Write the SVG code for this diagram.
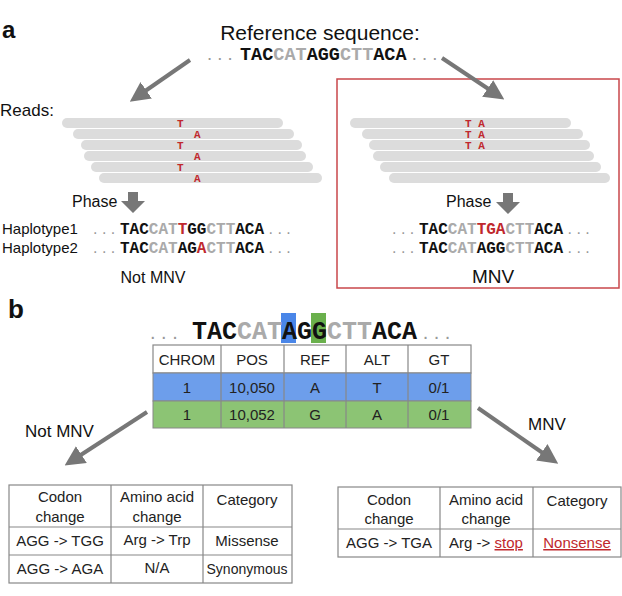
<svg xmlns="http://www.w3.org/2000/svg" width="622" height="596" viewBox="0 0 622 596">
<style>
.s{font-family:"Liberation Sans",Arial,sans-serif;fill:#111}
.m{font-family:"Liberation Mono","Courier New",monospace;font-weight:bold;fill:#111}
.g{fill:#aaa}
.r{fill:#c0282d}
.d{fill:#999;font-family:"Liberation Sans",sans-serif;font-weight:normal}
.bar{fill:#dcdcdc}
.ar{stroke:#777;stroke-width:4;fill:none}
.cell{fill:#fff;stroke:#888;stroke-width:1.2}
.t{font-family:"Liberation Sans",Arial,sans-serif;font-size:15px;fill:#222;text-anchor:middle}
</style>
<defs>
<marker id="ah" viewBox="0 0 10 10" refX="5" refY="5" markerWidth="5" markerHeight="5" orient="auto"><path d="M0,0L10,5L0,10z" fill="#777"/></marker>
</defs>
<text x="2" y="38" class="s" font-size="24" font-weight="bold">a</text>
<text x="320" y="40" class="s" font-size="21" text-anchor="middle">Reference sequence:</text>
<text x="207" y="60" class="m" font-size="18.5"><tspan class="d">. . .</tspan><tspan x="240">TAC</tspan><tspan class="g">CAT</tspan>AGG<tspan class="g">CTT</tspan>ACA<tspan class="d"> . . .</tspan></text>
<rect x="337" y="79" width="282" height="209" fill="none" stroke="#c9474b" stroke-width="1.5"/>
<g id="connectors">
<line x1="190" y1="60" x2="138" y2="96" class="ar" marker-end="url(#ah)"/>
<line x1="442" y1="58" x2="496" y2="94" class="ar" marker-end="url(#ah)"/>
<line x1="147" y1="412" x2="73" y2="460" class="ar" marker-end="url(#ah)"/>
<line x1="478" y1="408" x2="550" y2="458" class="ar" marker-end="url(#ah)"/>
<path d="M128,192h10v9h7l-12,12l-12,-12h7z" fill="#777"/>
<path d="M503,193h10v9h7l-12,12l-12,-12h7z" fill="#777"/>
</g>
<text x="0" y="116" class="s" font-size="17">Reads:</text>
<g id="readsL">
<rect x="62" y="118" width="221" height="10" rx="5" class="bar"/>
<rect x="73" y="129" width="221" height="10" rx="5" class="bar"/>
<rect x="81" y="140" width="221" height="10" rx="5" class="bar"/>
<rect x="84" y="151" width="222" height="10" rx="5" class="bar"/>
<rect x="91" y="162" width="222" height="10" rx="5" class="bar"/>
<rect x="99" y="173" width="223" height="10" rx="5" class="bar"/>
<g class="m" font-size="11"><text x="177" y="127" class="r">T</text><text x="194" y="138" class="r">A</text><text x="177" y="149" class="r">T</text><text x="194" y="160" class="r">A</text><text x="177" y="171" class="r">T</text><text x="194" y="182" class="r">A</text></g>
</g>
<g id="readsR">
<rect x="350" y="118" width="221" height="10" rx="5" class="bar"/>
<rect x="362" y="129" width="221" height="10" rx="5" class="bar"/>
<rect x="369" y="140" width="221" height="10" rx="5" class="bar"/>
<rect x="373" y="151" width="221" height="10" rx="5" class="bar"/>
<rect x="380" y="162" width="221" height="10" rx="5" class="bar"/>
<rect x="389" y="173" width="221" height="10" rx="5" class="bar"/>
<g class="m" font-size="11"><text x="465" y="127" class="r">T A</text><text x="465" y="138" class="r">T A</text><text x="465" y="149" class="r">T A</text></g>
</g>
<text x="72" y="207" class="s" font-size="16">Phase</text>
<text x="446" y="207" class="s" font-size="16">Phase</text>
<text x="2" y="234" class="s" font-size="15">Haplotype1</text>
<text x="2" y="253" class="s" font-size="15">Haplotype2</text>
<text x="93" y="234" class="m" font-size="16"><tspan class="d">. . .</tspan><tspan x="120">TAC</tspan><tspan class="g">CAT</tspan><tspan class="r">T</tspan>GG<tspan class="g">CTT</tspan>ACA<tspan class="d"> . . .</tspan></text>
<text x="93" y="253" class="m" font-size="16"><tspan class="d">. . .</tspan><tspan x="120">TAC</tspan><tspan class="g">CAT</tspan>AG<tspan class="r">A</tspan><tspan class="g">CTT</tspan>ACA<tspan class="d"> . . .</tspan></text>
<text x="392" y="234" class="m" font-size="16"><tspan class="d">. . .</tspan><tspan x="419">TAC</tspan><tspan class="g">CAT</tspan><tspan class="r">TGA</tspan><tspan class="g">CTT</tspan>ACA<tspan class="d"> . . .</tspan></text>
<text x="392" y="253" class="m" font-size="16"><tspan class="d">. . .</tspan><tspan x="419">TAC</tspan><tspan class="g">CAT</tspan>AGG<tspan class="g">CTT</tspan>ACA<tspan class="d"> . . .</tspan></text>
<text x="153" y="283" class="s" font-size="16" text-anchor="middle">Not MNV</text>
<text x="493" y="283" class="s" font-size="19" text-anchor="middle">MNV</text>
<text x="8" y="318" class="s" font-size="26" font-weight="bold">b</text>
<rect x="281" y="313" width="15" height="30" fill="#4a86e8"/>
<rect x="311" y="313" width="15" height="30" fill="#6ab04c"/>
<text x="150" y="339" class="m" font-size="25"><tspan class="d" font-size="20">. . .</tspan><tspan x="192">TAC</tspan><tspan class="g">CAT</tspan>AGG<tspan class="g">CTT</tspan>ACA<tspan class="d" font-size="20"> . . .</tspan></text>
<g id="vcf">
<rect x="153" y="345" width="318" height="28" class="cell"/>
<rect x="153" y="373" width="318" height="28" fill="#6d9eeb" stroke="#888"/>
<rect x="153" y="401" width="318" height="27" fill="#8cc474" stroke="#888"/>
<path d="M221,345V428M284,345V428M346,345V428M408,345V428" stroke="#888" stroke-width="1.2"/>
<g class="t"><text x="187" y="365">CHROM</text><text x="252" y="365">POS</text><text x="315" y="365">REF</text><text x="377" y="365">ALT</text><text x="439" y="365">GT</text>
<text x="187" y="393">1</text><text x="252" y="393">10,050</text><text x="315" y="393">A</text><text x="377" y="393">T</text><text x="439" y="393">0/1</text>
<text x="187" y="420">1</text><text x="252" y="420">10,052</text><text x="315" y="420">G</text><text x="377" y="420">A</text><text x="439" y="420">0/1</text></g>
</g>
<text x="25" y="437" class="s" font-size="17">Not MNV</text>
<text x="528" y="430" class="s" font-size="17">MNV</text>
<g id="tableL">
<rect x="9" y="485" width="283" height="98" class="cell"/>
<path d="M9,527H292M9,555H292M111,485V583M203,485V583" stroke="#888" stroke-width="1.2"/>
<g class="t"><text x="60" y="502">Codon</text><text x="60" y="522">change</text><text x="157" y="502">Amino acid</text><text x="157" y="522">change</text><text x="247" y="505">Category</text>
<text x="60" y="546">AGG -&gt; TGG</text><text x="157" y="545">Arg -&gt; Trp</text><text x="247" y="546">Missense</text>
<text x="60" y="574">AGG -&gt; AGA</text><text x="157" y="573">N/A</text><text x="247" y="574" font-size="14">Synonymous</text></g>
</g>
<g id="tableR">
<rect x="338" y="487" width="283" height="70" class="cell"/>
<path d="M338,529H621M440,487V557M533,487V557" stroke="#888" stroke-width="1.2"/>
<g class="t"><text x="389" y="505">Codon</text><text x="389" y="524">change</text><text x="486" y="505">Amino acid</text><text x="486" y="524">change</text><text x="577" y="506">Category</text>
<text x="389" y="548">AGG -&gt; TGA</text><text x="486" y="548">Arg -&gt; <tspan fill="#c0282d" text-decoration="underline">stop</tspan></text><text x="577" y="548" fill="#c0282d" text-decoration="underline">Nonsense</text></g>
</g>
</svg>
